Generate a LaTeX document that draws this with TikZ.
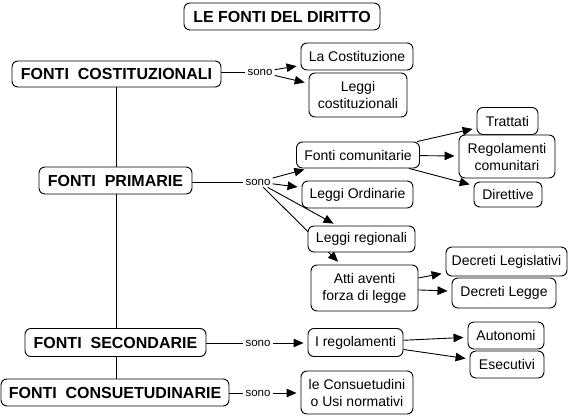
\documentclass[tikz,border=0pt]{standalone}
\usepackage{fontspec}
\setmainfont{Liberation Sans}
\usetikzlibrary{arrows.meta,backgrounds}
\begin{document}
\begin{tikzpicture}[x=1pt,y=-1pt,
  box/.style={draw, rounded corners=6pt, fill=white, line width=0.9pt, inner sep=0pt,
    align=center, font=\fontsize{14}{17}\selectfont},
  bbox/.style={box, font=\fontsize{16}{19}\selectfont\bfseries},
  lbl/.style={inner sep=2pt, font=\fontsize{11.5}{13}\selectfont},
  ln/.style={line width=0.9pt},
  arr/.style={ln, -{Triangle[length=10pt,width=8.5pt]}, shorten >=4pt}]
\useasboundingbox (0,0) rectangle (574,417);
% nodes
\node[bbox, minimum width=196pt, minimum height=27pt] (title) at (282,16.5) {LE FONTI DEL DIRITTO};
\node[bbox, minimum width=209pt, minimum height=26pt] (fcost) at (116.5,74) {FONTI\ \ COSTITUZIONALI};
\node[bbox, minimum width=153pt, minimum height=27pt] (fprim) at (115.5,180.5) {FONTI\ \ PRIMARIE};
\node[bbox, minimum width=181pt, minimum height=28pt] (fsec) at (115.5,342.5) {FONTI\ \ SECONDARIE};
\node[bbox, minimum width=228pt, minimum height=27pt] (fcons) at (115,392.5) {FONTI\ \ CONSUETUDINARIE};
\node[lbl] (s1) at (260,72) {sono};
\node[lbl] (s2) at (258,182) {sono};
\node[lbl] (s3) at (258,343) {sono};
\node[lbl] (s4) at (258,393) {sono};
\node[box, minimum width=112pt, minimum height=27pt] (lc) at (357,56.5) {La Costituzione};
\node[box, minimum width=98pt, minimum height=44pt] (lcost) at (358,95) {Leggi\\costituzionali};
\node[box, minimum width=123pt, minimum height=26pt] (fcom) at (358,155) {Fonti comunitarie};
\node[box, minimum width=111pt, minimum height=27pt] (lo) at (357.5,194.5) {Leggi Ordinarie};
\node[box, minimum width=107pt, minimum height=26pt] (lr) at (361.5,239) {Leggi regionali};
\node[box, minimum width=107pt, minimum height=46pt] (atti) at (364.5,288) {Atti aventi\\forza di legge};
\node[box, minimum width=61pt, minimum height=27pt] (tr) at (507.5,121) {Trattati};
\node[box, minimum width=96pt, minimum height=43pt] (regc) at (507,156.5) {Regolamenti\\comunitari};
\node[box, minimum width=68pt, minimum height=25pt] (dir) at (508,194.5) {Direttive};
\node[box, minimum width=121pt, minimum height=29pt] (dlg) at (506.5,261.5) {Decreti Legislativi};
\node[box, minimum width=104pt, minimum height=30pt] (dleg) at (504,293) {Decreti Legge};
\node[box, minimum width=95pt, minimum height=28pt] (ireg) at (355.5,342.5) {I regolamenti};
\node[box, minimum width=76pt, minimum height=27pt] (aut) at (506,335.5) {Autonomi};
\node[box, minimum width=74pt, minimum height=27pt] (ese) at (507,364.5) {Esecutivi};
\node[box, minimum width=112pt, minimum height=43pt] (cons) at (357,392.5) {le Consuetudini\\o Usi normativi};
% connectors
\begin{pgfonlayer}{background}
\fill[white] (0,0) rectangle (574,417);
\draw[ln] (fcost.south) -- (fcost.south |- fprim.north);
\draw[ln] (fcost.south |- fprim.south) -- (fcost.south |- fsec.north);
\draw[ln] (fcost.south |- fsec.south) -- (fcost.south |- fcons.north);
\draw[ln] (fcost.east |- s1.west) -- (s1.west);
\draw[arr] (s1) -- (lc);
\draw[arr] (s1) -- (lcost);
\draw[ln] (fprim.east |- s2.west) -- (s2.west);
\draw[arr] (s2) -- (fcom);
\draw[arr] (s2) -- (lo);
\draw[arr] (s2) -- (lr);
\draw[arr] (s2) -- (atti);
\draw[arr] (fcom) -- (tr);
\draw[arr] (fcom) -- (regc);
\draw[arr] (fcom) -- (dir);
\draw[arr] (atti) -- (dlg);
\draw[arr] (atti) -- (dleg);
\draw[ln] (fsec.east |- s3.west) -- (s3.west);
\draw[arr] (s3.east) -- (ireg.west |- s3.east);
\draw[arr] (ireg) -- (aut);
\draw[arr] (ireg) -- (ese);
\draw[ln] (fcons.east |- s4.west) -- (s4.west);
\draw[arr] (s4.east) -- (cons.west |- s4.east);
\end{pgfonlayer}
\end{tikzpicture}
\end{document}
